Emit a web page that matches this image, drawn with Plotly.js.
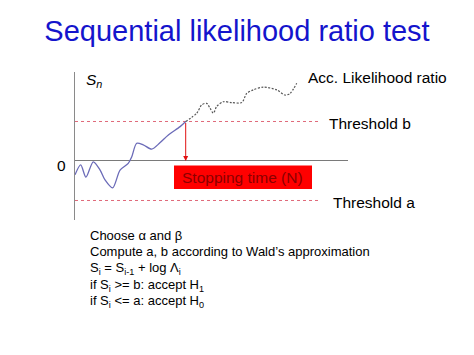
<!DOCTYPE html>
<html>
<head>
<meta charset="utf-8">
<script src="https://cdn.plot.ly/plotly-3.0.1.min.js"></script>
<style>html,body{margin:0;padding:0;background:#fff;}#chart{width:474px;height:355px;}</style>
</head>
<body>
<div id="chart"></div>
<script>
// ---- data ----
const nObserved = [0, 2.1, 4.0, 6.7, 9.2, 11.0, 13.8, 16.5, 19.5, 20.8, 22.6, 25.0, 28.1, 31.1, 34.2, 38.5, 40.55];
const sObserved = [-0.35, -0.10, -0.41, -0.02, -0.23, -0.48, -0.68, -0.23, -0.06, 0.11, 0.45, 0.41, 0.30, 0.46, 0.66, 0.87, 1.0];
const nContinued = [40.55, 44.6, 46.4, 48.2, 49.5, 50.7, 51.9, 54.3, 57.4, 61.1, 62.9, 65.3, 69.0, 73.9, 76.9, 78.8, 81.2];
const sContinued = [1.0, 1.21, 1.42, 1.46, 1.33, 1.21, 1.38, 1.50, 1.48, 1.48, 1.71, 1.80, 1.87, 1.80, 1.67, 1.71, 1.97];
const thresholdB = 1;
const thresholdA = -1;
const thresholdEnd = 89.4;
const stopN = 40.55;

const titleText = 'Sequential likelihood ratio test';
const curveLabel = 'Acc. Likelihood ratio';
const labelB = 'Threshold b';
const labelA = 'Threshold a';
const stopLabel = 'Stopping time (N)';
const notes = [
  'Choose \u03b1 and \u03b2',
  'Compute a, b according to Wald\u2019s approximation',
  'S<sub>i</sub> = S<sub>i-1</sub> + log \u039b<sub>i</sub>',
  'if S<sub>i</sub> &gt;= b: accept H<sub>1</sub>',
  'if S<sub>i</sub> &lt;= a: accept H<sub>0</sub>'
];

// ---- layout helpers (page pixels -> axis / paper units) ----
const L = 75, R = 348, T = 72, B = 220;
const xMax = 100, yTop = 2.253, yBot = -1.494;
const px2x = p => (p - L) / (R - L) * xMax;
const py2y = p => yTop - (p - T) / (B - T) * (yTop - yBot);
const px2p = p => (p - L) / (R - L);
const py2p = p => (B - p) / (B - T);

const FONT = 'Arial, "Liberation Sans", sans-serif';

const traces = [
  {x: [0, thresholdEnd], y: [thresholdB, thresholdB], mode: 'lines',
   line: {color: '#e06a7a', width: 1, dash: 'dot'}, hoverinfo: 'skip'},
  {x: [0, thresholdEnd], y: [thresholdA, thresholdA], mode: 'lines',
   line: {color: '#e06a7a', width: 1, dash: 'dot'}, hoverinfo: 'skip'},
  {x: nObserved, y: sObserved, mode: 'lines',
   line: {color: '#6b6bb8', width: 1.3, shape: 'spline', smoothing: 0.8}},
  {x: nContinued, y: sContinued, mode: 'lines',
   line: {color: '#555555', width: 1.2, dash: '2px,1.5px', shape: 'spline', smoothing: 0.8}}
];

const ann = [];
function label(text, px, py, size, opts) {
  ann.push(Object.assign({x: px2p(px), y: py2p(py), xref: 'paper', yref: 'paper', text: text,
    showarrow: false, xanchor: 'left', yanchor: 'middle',
    font: {family: FONT, size: size, color: '#000'}}, opts || {}));
}
label('0', 61.7, 165, 15.5, {xanchor: 'center'});
label('<i>S</i><sub><i>n</i></sub>', 84, 80, 15.5);
label(curveLabel, 306, 77, 15.5);
label(labelB, 327, 123, 15.5);
label(labelA, 331, 202, 15.5);
label(stopLabel, 242, 177.5, 15.5, {xanchor: 'center', font: {family: FONT, size: 15.5, color: '#8a0000'}});
notes.forEach((t, i) => label(t, 88, 235 + i * 16.7, 13));

ann.push({x: stopN, y: 0, ax: stopN, ay: thresholdB, xref: 'x', yref: 'y', axref: 'x', ayref: 'y',
  text: '', showarrow: true, arrowhead: 2, arrowsize: 1, arrowwidth: 1, arrowcolor: '#e01010', standoff: 0});

const layout = {
  width: 474, height: 355,
  margin: {l: L, r: 474 - R, t: T, b: 355 - B, pad: 0},
  paper_bgcolor: '#ffffff', plot_bgcolor: '#ffffff',
  showlegend: false,
  title: {text: titleText, font: {family: FONT, size: 29, color: '#1414cc'},
          x: 0.5, xref: 'container', xanchor: 'center', y: 1 - 31 / 355, yref: 'container', yanchor: 'middle'},
  xaxis: {range: [0, xMax], showgrid: false, zeroline: false, showline: false,
          showticklabels: false, ticks: '', fixedrange: true},
  yaxis: {range: [yBot, yTop], showgrid: false, zeroline: true, zerolinecolor: '#7a7a7a', zerolinewidth: 1,
          showline: true, linecolor: '#8a8a8a', linewidth: 1.5, showticklabels: false, ticks: '', fixedrange: true},
  shapes: [{type: 'rect', xref: 'x', yref: 'y', x0: px2x(174), x1: px2x(312), y0: py2y(165.5), y1: py2y(189),
            fillcolor: '#ff0000', line: {width: 0}, layer: 'above'}],
  annotations: ann
};

Plotly.newPlot('chart', traces, layout, {displayModeBar: false, staticPlot: true});
</script>
</body>
</html>
